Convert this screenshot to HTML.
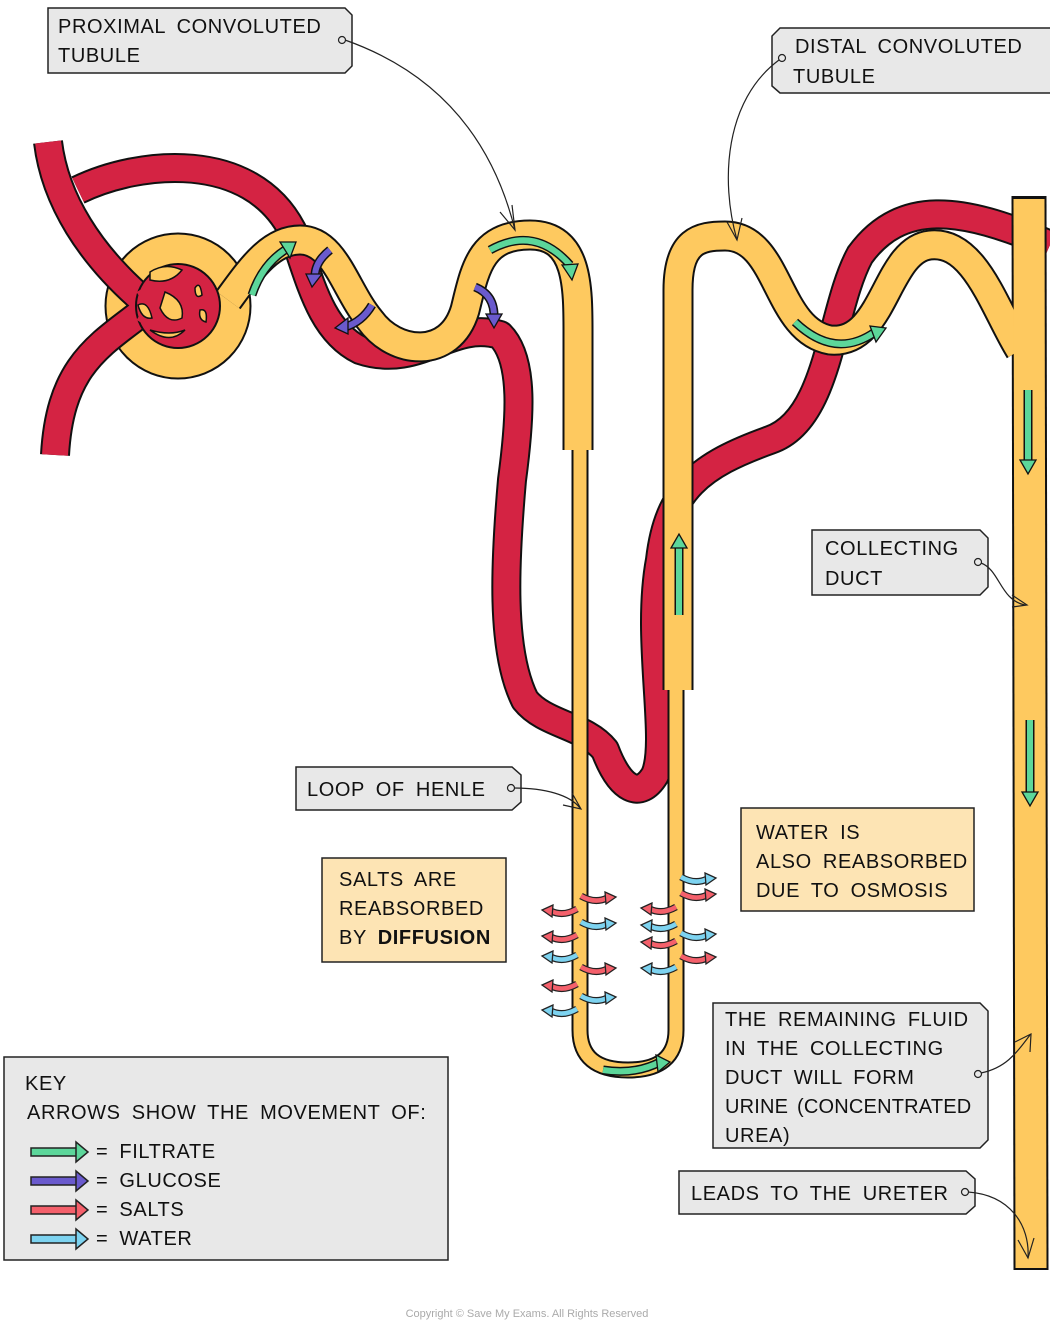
<!DOCTYPE html>
<html><head><meta charset="utf-8"><style>
html,body{margin:0;padding:0;background:#fff}
svg{display:block}
text{font-family:"Liberation Sans",sans-serif;font-size:20px;fill:#111;letter-spacing:0.6px;word-spacing:5px}
</style></head><body>
<svg width="1050" height="1333" viewBox="0 0 1050 1333" xmlns="http://www.w3.org/2000/svg">
<defs>
<g id="ca">
<path d="M1,3 Q15,11 27,5" stroke="#222" stroke-width="7" fill="none"/>
<path d="M1,3 Q15,11 27,5" stroke="currentColor" stroke-width="4.6" fill="none"/>
<polygon points="25,-1 36,4 26,11" fill="currentColor" stroke="#222" stroke-width="1.3"/>
</g>
<g id="ka">
<rect x="0" y="-4" width="46" height="8" fill="currentColor" stroke="#222" stroke-width="1.5"/>
<polygon points="45,-10 57,0 45,10" fill="currentColor" stroke="#222" stroke-width="1.5"/>
</g>
</defs>

<g fill="none" stroke-linejoin="round">
<g stroke="#111" stroke-width="30">
<path d="M78,190 C140,160 250,150 292,230 C310,280 320,330 360,350 C420,370 450,320 500,335 C525,360 520,420 512,480 C505,560 500,650 525,700 C545,725 585,725 605,750 C620,790 640,800 655,775 C670,740 645,640 660,560 C668,490 700,465 770,440 C830,420 830,310 860,255 C900,200 960,205 1050,245"/>
</g>
<g stroke="#D42343" stroke-width="26">
<path d="M78,190 C140,160 250,150 292,230 C310,280 320,330 360,350 C420,370 450,320 500,335 C525,360 520,420 512,480 C505,560 500,650 525,700 C545,725 585,725 605,750 C620,790 640,800 655,775 C670,740 645,640 660,560 C668,490 700,465 770,440 C830,420 830,310 860,255 C900,200 960,205 1050,245"/>
</g>
</g>

<g fill="none" stroke-linejoin="round">
<circle cx="178" cy="306" r="57" stroke="#111" stroke-width="33"/>
<circle cx="178" cy="306" r="57" stroke="#FEC95F" stroke-width="29"/>
<g stroke="#111" stroke-width="31">
<path d="M228,300 C250,270 270,240 300,240 C335,240 345,290 370,320 C395,355 450,360 465,310 C475,270 480,235 530,235 C580,235 578,290 578,340 L578,450"/>
<path d="M678,690 L678,290 C678,240 700,236 725,236 C780,236 775,330 830,340 C885,345 885,250 930,245 C975,240 995,310 1020,350"/>
<path d="M1029,196 L1031,1270" stroke-width="35"/>
</g>
<g stroke="#FEC95F">
<path stroke-width="27" d="M228,300 C250,270 270,240 300,240 C335,240 345,290 370,320 C395,355 450,360 465,310 C475,270 480,235 530,235 C580,235 578,290 578,340 L578,450"/>
<path stroke-width="27" d="M678,690 L678,290 C678,240 700,236 725,236 C780,236 775,330 830,340 C885,345 885,250 930,245 C975,240 995,310 1020,350"/>
</g>
<path d="M580,450 L580,1030 Q580,1070 628,1070 Q676,1070 676,1030 L676,690" stroke="#111" stroke-width="17"/>
<path d="M580,450 L580,1030 Q580,1070 628,1070 Q676,1070 676,1030 L676,690" stroke="#FEC95F" stroke-width="13"/>
<path d="M1029,199 L1031,1268" stroke="#FEC95F" stroke-width="31"/>
</g>

<!-- afferent/efferent red X over capsule -->
<g fill="none" stroke-linejoin="round">
<path d="M48,142 C55,200 90,255 145,302" stroke="#111" stroke-width="30"/>
<path d="M145,310 C100,345 60,365 55,455" stroke="#111" stroke-width="30"/>
<path d="M48,142 C55,200 90,255 145,302" stroke="#D42343" stroke-width="26"/>
<path d="M145,310 C100,345 60,365 55,455" stroke="#D42343" stroke-width="26"/>
</g>
<circle cx="178" cy="306" r="42" fill="#D42343" stroke="#111" stroke-width="2"/>
<path d="M140,290 L150,306 L140,322" stroke="#D42343" stroke-width="8" fill="none"/>
<g fill="#FEC95F" stroke="#111" stroke-width="1.5">
<path d="M150,272 Q165,262 182,270 Q170,285 150,280Z"/>
<path d="M165,292 Q185,300 182,318 Q168,325 160,308Z"/>
<path d="M138,305 Q148,300 152,318 Q142,320 138,305Z"/>
<path d="M195,288 Q200,280 202,295 Q195,300 195,288Z"/>
<path d="M150,330 Q170,336 185,330 Q170,345 150,330Z"/>
<path d="M200,310 Q208,308 206,322 Q198,320 200,310Z"/>
</g>

<g fill="none">
<g stroke="#111" stroke-width="9">
<path d="M252,295 Q262,265 285,250"/>
<path d="M490,250 Q535,225 570,265"/>
<path d="M795,322 Q835,360 875,332"/>
<path d="M603,1070 Q635,1075 660,1062"/>
<path d="M679,615 L679,545"/><path d="M1028,390 L1028,460"/><path d="M1030,720 L1030,792"/>
</g>
<g stroke="#5CD69A" stroke-width="6">
<path d="M252,295 Q262,265 285,250"/>
<path d="M490,250 Q535,225 570,265"/>
<path d="M795,322 Q835,360 875,332"/>
<path d="M603,1070 Q635,1075 660,1062"/>
<path d="M679,615 L679,545"/><path d="M1028,390 L1028,460"/><path d="M1030,720 L1030,792"/>
</g>
</g>
<g fill="#5CD69A" stroke="#111" stroke-width="1.3">
<polygon points="280,242 296,242 290,258"/>
<polygon points="562,265 578,264 572,280"/>
<polygon points="870,326 886,328 876,342"/>
<polygon points="656,1055 670,1062 658,1072"/>
<polygon points="671,548 679,534 687,548"/>
<polygon points="1020,460 1036,460 1028,474"/>
<polygon points="1022,792 1038,792 1030,806"/>
</g>
<g fill="none">
<g stroke="#111" stroke-width="9"><path d="M330,250 Q315,262 315,276"/><path d="M372,305 Q362,322 345,327"/><path d="M475,287 Q495,295 494,318"/></g>
<g stroke="#6A5ACD" stroke-width="6"><path d="M330,250 Q315,262 315,276"/><path d="M372,305 Q362,322 345,327"/><path d="M475,287 Q495,295 494,318"/></g>
</g>
<g fill="#6A5ACD" stroke="#111" stroke-width="1.3">
<polygon points="306,274 322,274 312,287"/>
<polygon points="348,318 348,334 335,328"/>
<polygon points="486,314 502,314 494,328"/>
</g>

<g>
<use href="#ca" transform="translate(580,893)" style="color:#F4606B"/>
<use href="#ca" transform="translate(580,919)" style="color:#7DD3F0"/>
<use href="#ca" transform="translate(580,964)" style="color:#F4606B"/>
<use href="#ca" transform="translate(580,993)" style="color:#7DD3F0"/>
<use href="#ca" transform="translate(578,906) scale(-1,1)" style="color:#F4606B"/>
<use href="#ca" transform="translate(578,932) scale(-1,1)" style="color:#F4606B"/>
<use href="#ca" transform="translate(578,952) scale(-1,1)" style="color:#7DD3F0"/>
<use href="#ca" transform="translate(578,981) scale(-1,1)" style="color:#F4606B"/>
<use href="#ca" transform="translate(578,1006) scale(-1,1)" style="color:#7DD3F0"/>
<use href="#ca" transform="translate(677,904) scale(-1,1)" style="color:#F4606B"/>
<use href="#ca" transform="translate(677,921) scale(-1,1)" style="color:#7DD3F0"/>
<use href="#ca" transform="translate(677,938) scale(-1,1)" style="color:#F4606B"/>
<use href="#ca" transform="translate(677,964) scale(-1,1)" style="color:#7DD3F0"/>
<use href="#ca" transform="translate(680,874)" style="color:#7DD3F0"/>
<use href="#ca" transform="translate(680,890)" style="color:#F4606B"/>
<use href="#ca" transform="translate(680,930)" style="color:#7DD3F0"/>
<use href="#ca" transform="translate(680,953)" style="color:#F4606B"/>
</g>

<g stroke="#222" stroke-width="1.5">
<polygon points="48,8 345,8 352,15 352,66 345,73 48,73" fill="#E8E8E8"/>
<polygon points="780,28 1052,28 1052,93 780,93 772,86 772,36" fill="#E8E8E8"/>
<polygon points="812,530 980,530 988,538 988,587 980,595 812,595" fill="#E8E8E8"/>
<polygon points="296,767 512,767 521,775 521,802 512,810 296,810" fill="#E8E8E8"/>
<rect x="322" y="858" width="184" height="104" fill="#FDE4B4"/>
<rect x="741" y="808" width="233" height="103" fill="#FDE4B4"/>
<polygon points="713,1003 980,1003 988,1011 988,1140 980,1148 713,1148" fill="#E8E8E8"/>
<polygon points="679,1171 966,1171 975,1179 975,1206 966,1214 679,1214" fill="#E8E8E8"/>
<rect x="4" y="1057" width="444" height="203" fill="#E8E8E8"/>
</g>
<g fill="none" stroke="#222" stroke-width="1.2">
<circle cx="342" cy="40" r="3.5"/><path d="M345,40 C430,70 490,130 515,230"/><path d="M500,212 L515,230 L512,205"/>
<circle cx="782" cy="58" r="3.5"/><path d="M779,60 C725,100 720,180 737,240"/><path d="M727,222 L737,240 L742,218"/>
<circle cx="978" cy="562" r="3.5"/><path d="M981,563 C1000,570 1000,600 1025,605"/><path d="M1012,595 L1027,605 L1012,607"/>
<circle cx="511" cy="788" r="3.5"/><path d="M514,788 C545,788 570,795 580,808"/><path d="M563,805 L581,809 L572,793"/>
<circle cx="978" cy="1074" r="3.5"/><path d="M981,1073 C1005,1068 1015,1055 1030,1035"/><path d="M1015,1042 L1031,1034 L1030,1052"/>
<circle cx="965" cy="1192" r="3.5"/><path d="M968,1192 C1010,1195 1030,1225 1028,1258"/><path d="M1018,1240 L1028,1258 L1034,1238"/>
</g>
<text x="58" y="33">PROXIMAL CONVOLUTED</text>
<text x="58" y="62">TUBULE</text>
<text x="795" y="53">DISTAL CONVOLUTED</text>
<text x="793" y="83">TUBULE</text>
<text x="825" y="555">COLLECTING</text>
<text x="825" y="585">DUCT</text>
<text x="307" y="796">LOOP OF HENLE</text>
<text x="339" y="886">SALTS ARE</text>
<text x="339" y="915">REABSORBED</text>
<text x="339" y="944">BY <tspan font-weight="bold">DIFFUSION</tspan></text>
<text x="756" y="839">WATER IS</text>
<text x="756" y="868">ALSO REABSORBED</text>
<text x="756" y="897">DUE TO OSMOSIS</text>
<text x="725" y="1026">THE REMAINING FLUID</text>
<text x="725" y="1055">IN THE COLLECTING</text>
<text x="725" y="1084">DUCT WILL FORM</text>
<text x="725" y="1113" style="word-spacing:3px;letter-spacing:0.2px">URINE (CONCENTRATED</text>
<text x="725" y="1142">UREA)</text>
<text x="691" y="1200">LEADS TO THE URETER</text>
<text x="25" y="1090">KEY</text>
<text x="27" y="1119">ARROWS SHOW THE MOVEMENT OF:</text>
<use href="#ka" transform="translate(31,1152)" style="color:#5CD69A"/>
<use href="#ka" transform="translate(31,1181)" style="color:#6A5ACD"/>
<use href="#ka" transform="translate(31,1210)" style="color:#F4606B"/>
<use href="#ka" transform="translate(31,1239)" style="color:#7DD3F0"/>
<text x="96" y="1158">= FILTRATE</text>
<text x="96" y="1187">= GLUCOSE</text>
<text x="96" y="1216">= SALTS</text>
<text x="96" y="1245">= WATER</text>
<text x="527" y="1317" text-anchor="middle" style="font-size:11px;fill:#aaa;letter-spacing:0;word-spacing:0">Copyright © Save My Exams. All Rights Reserved</text>
</svg>
</body></html>
